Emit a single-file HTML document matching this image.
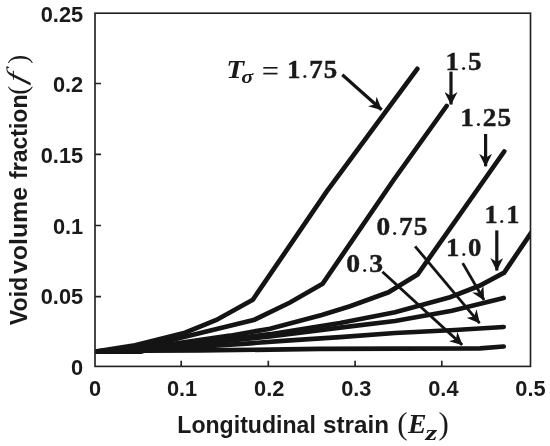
<!DOCTYPE html>
<html>
<head>
<meta charset="utf-8">
<title>Void volume fraction vs longitudinal strain</title>
<style>
html,body{margin:0;padding:0;background:#fff;}
body{width:550px;height:446px;overflow:hidden;}
svg{display:block;}
text{fill:#1a1a1a;}
.tick{font-family:"Liberation Sans",sans-serif;font-weight:bold;font-size:21.8px;}
.lab{font-family:"Liberation Sans",sans-serif;font-weight:bold;font-size:23.5px;}
.ann{font-family:"Liberation Serif",serif;font-weight:bold;font-size:26px;letter-spacing:1px;stroke:#1a1a1a;stroke-width:0.4px;}
.dot{font-family:"Liberation Serif",serif;font-weight:normal;font-size:26px;stroke:none;}
.mbi{font-family:"Liberation Serif",serif;font-style:italic;font-weight:bold;}
.mi{font-family:"Liberation Serif",serif;font-style:italic;font-weight:normal;}
.mr{font-family:"Liberation Serif",serif;font-weight:normal;}
.curve{fill:none;stroke:#141414;stroke-width:4.7;stroke-linecap:round;stroke-linejoin:miter;}
.arr{fill:none;stroke:#141414;stroke-width:2.8;}
.axis{fill:none;stroke:#222;stroke-width:1.65;}
</style>
</head>
<body>
<svg width="550" height="446" viewBox="0 0 550 446">
<defs>
<marker id="ah" viewBox="0 0 13 13" refX="12.5" refY="6.5" markerWidth="13" markerHeight="13" markerUnits="userSpaceOnUse" orient="auto">
<path d="M0,0 L13,6.5 L0,13 L4,6.5 Z" fill="#141414"/>
</marker>
<clipPath id="box"><rect x="95" y="13.2" width="435.5" height="352.8"/></clipPath>
</defs>
<rect x="0" y="0" width="550" height="446" fill="#fff"/>
<!-- curves -->
<g class="curve" clip-path="url(#box)">
<polyline points="95,351.7 141,351.7 145,350.6 200,350.4 270,349.6 320,348.8 480,348.3 503.7,346.5"/>
<polyline points="95,351.7 141,350.3 250,343.3 290,340.3 340,337.2 395,333 455,330 503.7,327"/>
<polyline points="95,351.7 141,349.5 270,336.5 340,327.6 395,321 452,310.7 503.7,298"/>
<polyline points="95,351.7 141,349 270,334.2 340,323 395,312.2 450,297.2 479.5,285.8 504.2,272.6 533,230"/>
<polyline points="95,351.7 141,348.7 230,335.7 270,328.7 321.8,315 350,306.3 388.5,292.3 417.6,274.6 504.2,151.5"/>
<polyline points="95,351.7 141,347.5 254.5,319.7 290,302.5 322.6,283.8 393.6,180 446.6,106"/>
<polyline points="95,351.7 135,345.2 185,332.8 216.4,320 252.8,299.8 326.4,191.9 417.3,68.8"/>
</g>
<!-- axes box -->
<rect class="axis" x="95.0" y="13.2" width="435.5" height="353.2"/>
<path class="axis" d="M95.0,83.5h6 M95.0,154.3h6 M95.0,225.5h6 M95.0,296.6h6 M181.2,366.4v-5.6 M268.3,366.4v-5.6 M355.1,366.4v-5.6 M441.8,366.4v-5.6"/>
<!-- arrows -->
<g class="arr">
<path d="M342.3,74.8L381.6,109.8" stroke-width="3.2" marker-end="url(#ah)"/>
<path d="M451,71.6L451,104.5" stroke-width="3.2" marker-end="url(#ah)"/>
<path d="M485.6,134L485.6,166.3" stroke-width="3.2" marker-end="url(#ah)"/>
<path d="M496.8,230.4L496.8,270.5" stroke-width="3.2" marker-end="url(#ah)"/>
<path d="M462.7,263.1L484,300" marker-end="url(#ah)"/>
<path d="M415.1,246.3L479.6,323.1" marker-end="url(#ah)"/>
<path d="M382.4,271.8L462.2,344.9" marker-end="url(#ah)"/>
</g>
<!-- y tick labels -->
<g text-anchor="end">
<text class="tick" x="83.2" y="21.8">0.25</text>
<text class="tick" x="83.2" y="92.4">0.2</text>
<text class="tick" x="83.2" y="163.1">0.15</text>
<text class="tick" x="83.2" y="233.7">0.1</text>
<text class="tick" x="83.2" y="304.4">0.05</text>
<text class="tick" x="83.2" y="375.0">0</text>
</g>
<!-- x tick labels -->
<g text-anchor="middle">
<text class="tick" x="95.0" y="395.9">0</text>
<text class="tick" x="182.1" y="395.9">0.1</text>
<text class="tick" x="269.2" y="395.9">0.2</text>
<text class="tick" x="356.3" y="395.9">0.3</text>
<text class="tick" x="443.4" y="395.9">0.4</text>
<text class="tick" x="530.5" y="395.9">0.5</text>
</g>
<!-- x axis label -->
<text class="lab" y="432.6"><tspan x="177.3" textLength="138.5" lengthAdjust="spacingAndGlyphs">Longitudinal</tspan> <tspan x="323" textLength="66" lengthAdjust="spacingAndGlyphs">strain</tspan> <tspan class="mr" x="397.3" y="434.3" font-size="31">(</tspan><tspan class="mbi" x="408" y="432.6" textLength="18.5" lengthAdjust="spacingAndGlyphs" font-size="27">E</tspan><tspan class="mbi" x="425.4" y="440.2" textLength="11.8" lengthAdjust="spacingAndGlyphs" font-size="21.5">z</tspan><tspan class="mr" x="438.5" y="434.3" font-size="31">)</tspan></text>
<!-- y axis label -->
<g transform="translate(26.7,0) rotate(-90)">
<text class="lab" y="0"><tspan x="-325.3" textLength="48.6" lengthAdjust="spacingAndGlyphs">Void</tspan> <tspan x="-274" textLength="87" lengthAdjust="spacingAndGlyphs">volume</tspan> <tspan x="-179" textLength="84.5" lengthAdjust="spacingAndGlyphs">fraction</tspan></text>
<text class="mr" x="-94.8" y="0" font-size="27">(</text>
<text class="mi" font-size="26.5" transform="translate(-84.5,-1.5) skewX(-15) scale(1.3,1)">f</text>
<text class="mr" x="-63.7" y="0" font-size="27">)</text>
</g>
<!-- annotations -->
<text class="ann" y="78"><tspan class="mbi" x="226.3" y="77.8" textLength="17.8" lengthAdjust="spacingAndGlyphs" font-size="25.5" stroke="none" letter-spacing="0">T</tspan><tspan class="mbi" x="241.2" y="83.3" textLength="12" lengthAdjust="spacingAndGlyphs" font-size="18" stroke="none" letter-spacing="0">σ</tspan> <tspan class="mr" x="262" y="80" textLength="16.8" lengthAdjust="spacingAndGlyphs" font-size="27" stroke-width="0.25" letter-spacing="0">=</tspan> <tspan x="287" y="78" textLength="51.3" lengthAdjust="spacingAndGlyphs">1<tspan class="dot">.</tspan>75</tspan></text>
<text class="ann" x="445.6" y="69.9" textLength="37" lengthAdjust="spacingAndGlyphs">1<tspan class="dot">.</tspan>5</text>
<text class="ann" x="460.3" y="126" textLength="52" lengthAdjust="spacingAndGlyphs">1<tspan class="dot">.</tspan>25</text>
<text class="ann" x="484.4" y="222.6" textLength="36" lengthAdjust="spacingAndGlyphs">1<tspan class="dot">.</tspan>1</text>
<text class="ann" x="446" y="256" textLength="36.5" lengthAdjust="spacingAndGlyphs">1<tspan class="dot">.</tspan>0</text>
<text class="ann" x="376.5" y="235" textLength="52" lengthAdjust="spacingAndGlyphs">0<tspan class="dot">.</tspan>75</text>
<text class="ann" x="346.3" y="271.5" textLength="37.8" lengthAdjust="spacingAndGlyphs">0<tspan class="dot">.</tspan>3</text>
</svg>
</body>
</html>
